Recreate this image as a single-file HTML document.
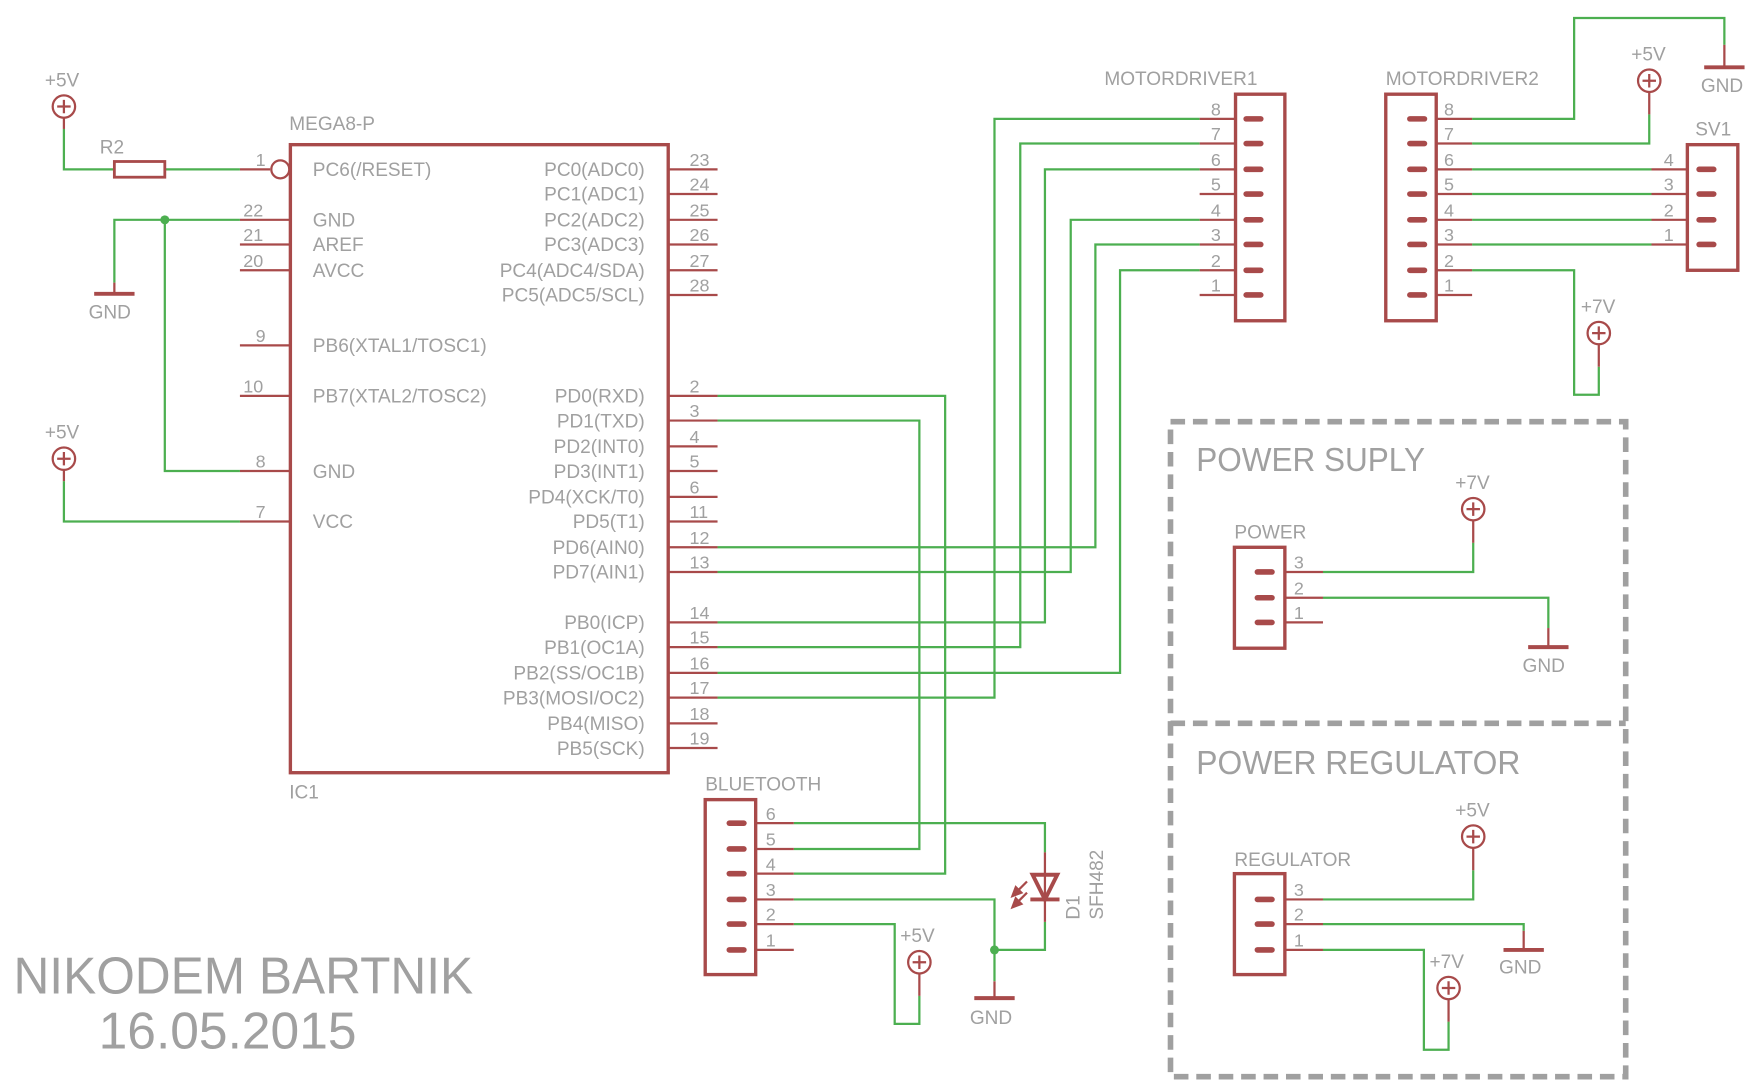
<!DOCTYPE html>
<html><head><meta charset="utf-8"><style>
html,body{margin:0;padding:0;background:#fff;}
svg{display:block}
text{font-family:"Liberation Sans",sans-serif;fill:#a0a0a0;}
.w{stroke:#4caf50;stroke-width:2;fill:none}
.r{stroke:#a84a4a;stroke-width:2;fill:none}
.R{stroke:#a84a4a;stroke-width:3.5;fill:none}
.n{font-size:16px}
.l{font-size:17px}
</style></head><body>
<svg width="1758" height="1080" viewBox="0 0 1568 963" preserveAspectRatio="none" xmlns="http://www.w3.org/2000/svg">
<g class="w">
<polyline points="57,115 57,151 102,151"/>
<line x1="147" y1="151" x2="214" y2="151"/>
<polyline points="214,196 102,196 102,252"/>
<polyline points="147,196 147,420 214,420"/>
<polyline points="57,429 57,465 214,465"/>
<polyline points="640,353 843,353 843,779 708,779"/>
<polyline points="640,375 820,375 820,757 708,757"/>
<polyline points="640,488 977,488 977,218 1070,218"/>
<polyline points="640,510 955,510 955,196 1070,196"/>
<polyline points="640,555 932,555 932,151 1070,151"/>
<polyline points="640,577 910,577 910,128 1070,128"/>
<polyline points="640,600 999,600 999,241 1070,241"/>
<polyline points="640,622 887,622 887,106 1070,106"/>
<polyline points="1313,106 1404,106 1404,16 1538,16 1538,40"/>
<polyline points="1313,128 1471,128 1471,102"/>
<line x1="1313" y1="151" x2="1473" y2="151"/>
<line x1="1313" y1="173" x2="1473" y2="173"/>
<line x1="1313" y1="196" x2="1473" y2="196"/>
<line x1="1313" y1="218" x2="1473" y2="218"/>
<polyline points="1313,241 1404,241 1404,352 1426,352 1426,327"/>
<polyline points="1180,510 1314,510 1314,484"/>
<polyline points="1180,533 1381,533 1381,560"/>
<polyline points="1180,802 1314,802 1314,776"/>
<polyline points="1180,824 1359,824 1359,830"/>
<polyline points="1180,847 1270,847 1270,936 1292,936 1292,911"/>
<polyline points="708,734 932,734 932,760"/>
<polyline points="932,822 932,847 887,847"/>
<polyline points="708,802 887,802 887,875"/>
<polyline points="708,824 798,824 798,913 820,913 820,888"/>
</g>
<circle cx="147" cy="196" r="4" fill="#4caf50"/>
<circle cx="887" cy="847" r="4" fill="#4caf50"/>
<g class="r">
<line x1="57" y1="105" x2="57" y2="115"/><circle cx="57" cy="95" r="10"/><path d="M51 95h12M57 89v12"/>
<line x1="57" y1="419" x2="57" y2="429"/><circle cx="57" cy="409" r="10"/><path d="M51 409h12M57 403v12"/>
<line x1="1471" y1="82" x2="1471" y2="102"/><circle cx="1471" cy="72" r="10"/><path d="M1465 72h12M1471 66v12"/>
<line x1="1426" y1="307" x2="1426" y2="327"/><circle cx="1426" cy="297" r="10"/><path d="M1420 297h12M1426 291v12"/>
<line x1="1314" y1="464" x2="1314" y2="484"/><circle cx="1314" cy="454" r="10"/><path d="M1308 454h12M1314 448v12"/>
<line x1="1314" y1="756" x2="1314" y2="776"/><circle cx="1314" cy="746" r="10"/><path d="M1308 746h12M1314 740v12"/>
<line x1="1292" y1="891" x2="1292" y2="911"/><circle cx="1292" cy="881" r="10"/><path d="M1286 881h12M1292 875v12"/>
<line x1="820" y1="868" x2="820" y2="888"/><circle cx="820" cy="858" r="10"/><path d="M814 858h12M820 852v12"/>
<line x1="102" y1="252" x2="102" y2="262"/>
<line x1="1538" y1="40" x2="1538" y2="60"/>
<line x1="1381" y1="560" x2="1381" y2="577"/>
<line x1="1359" y1="830" x2="1359" y2="847"/>
<line x1="887" y1="875" x2="887" y2="890"/>
<line x1="932" y1="760" x2="932" y2="822"/>
<line x1="214" y1="151" x2="241" y2="151"/><circle cx="250" cy="151" r="8"/>
<path d="M214 196h45M214 218h45M214 241h45M214 308h45M214 353h45M214 420h45M214 465h45"/>
<path d="M596 151h44M596 173h44M596 196h44M596 218h44M596 241h44M596 263h44M596 353h44M596 375h44M596 398h44M596 420h44M596 443h44M596 465h44M596 488h44M596 510h44M596 555h44M596 577h44M596 600h44M596 622h44M596 645h44M596 667h44"/>
<path d="M1070 106h32M1070 128h32M1070 151h32M1070 173h32M1070 196h32M1070 218h32M1070 241h32M1070 263h32"/>
<path d="M1281 106h32M1281 128h32M1281 151h32M1281 173h32M1281 196h32M1281 218h32M1281 241h32M1281 263h32"/>
<path d="M1473 151h32M1473 173h32M1473 196h32M1473 218h32"/>
<path d="M1146 510h34M1146 533h34M1146 555h34"/>
<path d="M1146 802h34M1146 824h34M1146 847h34"/>
<path d="M674 734h34M674 757h34M674 779h34M674 802h34M674 824h34M674 847h34"/>
</g>
<rect x="102" y="144" width="45" height="14" class="R" style="stroke-width:2.5"/>
<g class="R"><path d="M84 262h36M1520 60h36M1363 577h36M1341 847h36M869 890h36"/></g>
<path d="M921 780h22l-11 22z" class="R"/><path d="M919 802h26" class="R"/>
<g stroke="#a84a4a" stroke-width="2" fill="#a84a4a">
<line x1="916" y1="786" x2="906" y2="796"/><path d="M903 799l3-8 5 5z"/>
<line x1="916" y1="796" x2="906" y2="806"/><path d="M903 809l3-8 5 5z"/>
</g>
<g class="R" style="stroke-width:3">
<rect x="259" y="129" width="337" height="560"/>
<rect x="1102" y="84" width="44" height="202"/>
<rect x="1236" y="84" width="45" height="202"/>
<rect x="1505" y="129" width="45" height="112"/>
<rect x="1101" y="488" width="45" height="90"/>
<rect x="1101" y="779" width="45" height="90"/>
<rect x="629" y="713" width="45" height="156"/>
</g>
<g fill="#a84a4a">
<rect x="1109" y="103.5" width="18" height="5" rx="2.5"/><rect x="1109" y="125.5" width="18" height="5" rx="2.5"/><rect x="1109" y="148.5" width="18" height="5" rx="2.5"/><rect x="1109" y="170.5" width="18" height="5" rx="2.5"/><rect x="1109" y="193.5" width="18" height="5" rx="2.5"/><rect x="1109" y="215.5" width="18" height="5" rx="2.5"/><rect x="1109" y="238.5" width="18" height="5" rx="2.5"/><rect x="1109" y="260.5" width="18" height="5" rx="2.5"/>
<rect x="1255" y="103.5" width="18" height="5" rx="2.5"/><rect x="1255" y="125.5" width="18" height="5" rx="2.5"/><rect x="1255" y="148.5" width="18" height="5" rx="2.5"/><rect x="1255" y="170.5" width="18" height="5" rx="2.5"/><rect x="1255" y="193.5" width="18" height="5" rx="2.5"/><rect x="1255" y="215.5" width="18" height="5" rx="2.5"/><rect x="1255" y="238.5" width="18" height="5" rx="2.5"/><rect x="1255" y="260.5" width="18" height="5" rx="2.5"/>
<rect x="1513" y="148.5" width="18" height="5" rx="2.5"/><rect x="1513" y="170.5" width="18" height="5" rx="2.5"/><rect x="1513" y="193.5" width="18" height="5" rx="2.5"/><rect x="1513" y="215.5" width="18" height="5" rx="2.5"/>
<rect x="1119" y="507.5" width="18" height="5" rx="2.5"/><rect x="1119" y="530.5" width="18" height="5" rx="2.5"/><rect x="1119" y="552.5" width="18" height="5" rx="2.5"/>
<rect x="1119" y="799.5" width="18" height="5" rx="2.5"/><rect x="1119" y="821.5" width="18" height="5" rx="2.5"/><rect x="1119" y="844.5" width="18" height="5" rx="2.5"/>
<rect x="648" y="731.5" width="18" height="5" rx="2.5"/><rect x="648" y="754.5" width="18" height="5" rx="2.5"/><rect x="648" y="776.5" width="18" height="5" rx="2.5"/><rect x="648" y="799.5" width="18" height="5" rx="2.5"/><rect x="648" y="821.5" width="18" height="5" rx="2.5"/><rect x="648" y="844.5" width="18" height="5" rx="2.5"/>
</g>
<g stroke="#a0a0a0" stroke-width="5" fill="none" stroke-dasharray="13 7">
<rect x="1044" y="376" width="406" height="584"/>
<line x1="1044" y1="645" x2="1450" y2="645"/>
</g>
<g class="l">
<text x="40" y="77">+5V</text><text x="40" y="391">+5V</text>
<text x="89" y="137">R2</text>
<text x="79" y="284">GND</text>
<text x="258" y="116">MEGA8-P</text>
<text x="258" y="712">IC1</text>
<text x="279" y="157">PC6(/RESET)</text>
<text x="279" y="202">GND</text><text x="279" y="224">AREF</text><text x="279" y="247">AVCC</text>
<text x="279" y="314">PB6(XTAL1/TOSC1)</text><text x="279" y="359">PB7(XTAL2/TOSC2)</text>
<text x="279" y="426">GND</text><text x="279" y="471">VCC</text>
</g>
<g class="l" text-anchor="end">
<text x="575" y="157">PC0(ADC0)</text><text x="575" y="179">PC1(ADC1)</text><text x="575" y="202">PC2(ADC2)</text><text x="575" y="224">PC3(ADC3)</text><text x="575" y="247">PC4(ADC4/SDA)</text><text x="575" y="269">PC5(ADC5/SCL)</text>
<text x="575" y="359">PD0(RXD)</text><text x="575" y="381">PD1(TXD)</text><text x="575" y="404">PD2(INT0)</text><text x="575" y="426">PD3(INT1)</text><text x="575" y="449">PD4(XCK/T0)</text><text x="575" y="471">PD5(T1)</text><text x="575" y="494">PD6(AIN0)</text><text x="575" y="516">PD7(AIN1)</text>
<text x="575" y="561">PB0(ICP)</text><text x="575" y="583">PB1(OC1A)</text><text x="575" y="606">PB2(SS/OC1B)</text><text x="575" y="628">PB3(MOSI/OC2)</text><text x="575" y="651">PB4(MISO)</text><text x="575" y="673">PB5(SCK)</text>
</g>
<g class="n">
<text x="228" y="148">1</text><text x="217" y="193">22</text><text x="217" y="215">21</text><text x="217" y="238">20</text><text x="228" y="305">9</text><text x="217" y="350">10</text><text x="228" y="417">8</text><text x="228" y="462">7</text>
<text x="615" y="148">23</text><text x="615" y="170">24</text><text x="615" y="193">25</text><text x="615" y="215">26</text><text x="615" y="238">27</text><text x="615" y="260">28</text>
<text x="615" y="350">2</text><text x="615" y="372">3</text><text x="615" y="395">4</text><text x="615" y="417">5</text><text x="615" y="440">6</text><text x="615" y="462">11</text><text x="615" y="485">12</text><text x="615" y="507">13</text>
<text x="615" y="552">14</text><text x="615" y="574">15</text><text x="615" y="597">16</text><text x="615" y="619">17</text><text x="615" y="642">18</text><text x="615" y="664">19</text>
<text x="1080" y="103">8</text><text x="1080" y="125">7</text><text x="1080" y="148">6</text><text x="1080" y="170">5</text><text x="1080" y="193">4</text><text x="1080" y="215">3</text><text x="1080" y="238">2</text><text x="1080" y="260">1</text>
<text x="1288" y="103">8</text><text x="1288" y="125">7</text><text x="1288" y="148">6</text><text x="1288" y="170">5</text><text x="1288" y="193">4</text><text x="1288" y="215">3</text><text x="1288" y="238">2</text><text x="1288" y="260">1</text>
<text x="1484" y="148">4</text><text x="1484" y="170">3</text><text x="1484" y="193">2</text><text x="1484" y="215">1</text>
<text x="1154" y="507">3</text><text x="1154" y="530">2</text><text x="1154" y="552">1</text>
<text x="1154" y="799">3</text><text x="1154" y="821">2</text><text x="1154" y="844">1</text>
<text x="683" y="731">6</text><text x="683" y="754">5</text><text x="683" y="776">4</text><text x="683" y="799">3</text><text x="683" y="821">2</text><text x="683" y="844">1</text>
</g>
<g class="l">
<text x="985" y="76">MOTORDRIVER1</text><text x="1236" y="76">MOTORDRIVER2</text>
<text x="1455" y="54">+5V</text><text x="1517" y="82">GND</text><text x="1512" y="121">SV1</text>
<text x="1410" y="279">+7V</text>
<text x="1298" y="436">+7V</text><text x="1101" y="480">POWER</text><text x="1358" y="599">GND</text>
<text x="1298" y="728">+5V</text><text x="1101" y="772">REGULATOR</text><text x="1337" y="868">GND</text><text x="1275" y="863">+7V</text>
<text x="629" y="705">BLUETOOTH</text><text x="803" y="840">+5V</text><text x="865" y="913">GND</text>
<text transform="translate(963,820) rotate(-90)">D1</text>
<text transform="translate(984,820) rotate(-90)">SFH482</text>
</g>
<text x="1067" y="420" style="font-size:30px" textLength="204" lengthAdjust="spacingAndGlyphs">POWER SUPLY</text>
<text x="1067" y="690" style="font-size:30px" textLength="289" lengthAdjust="spacingAndGlyphs">POWER REGULATOR</text>
<text x="12" y="886" style="font-size:46px" textLength="410" lengthAdjust="spacingAndGlyphs">NIKODEM BARTNIK</text>
<text x="88" y="935" style="font-size:46px" textLength="230" lengthAdjust="spacingAndGlyphs">16.05.2015</text>
</svg>
</body></html>
